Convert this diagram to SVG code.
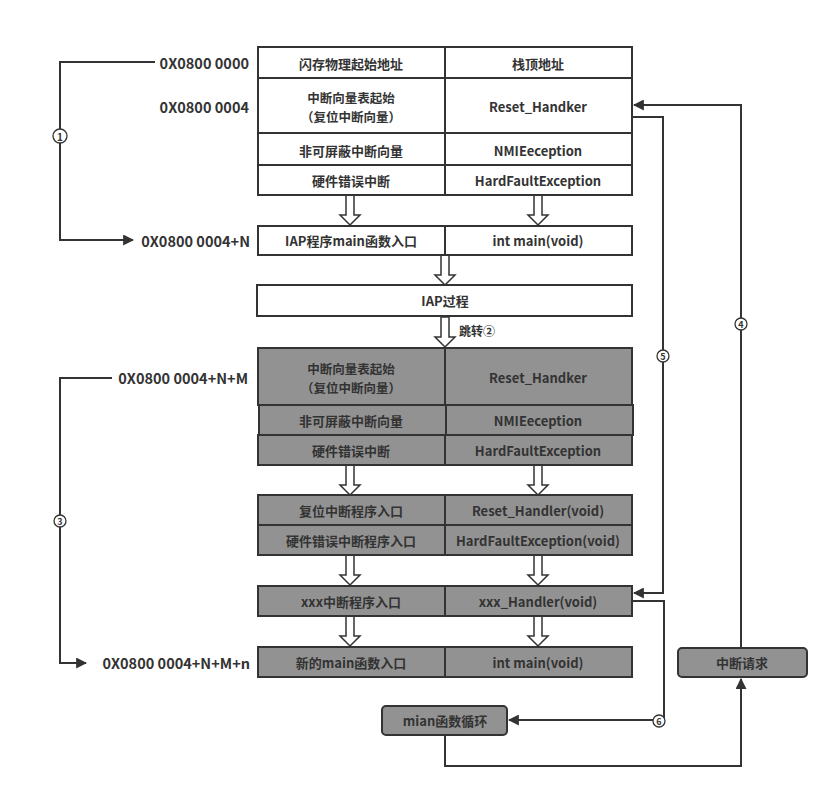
<svg xmlns="http://www.w3.org/2000/svg" width="836" height="797" viewBox="0 0 836 797">
<style>
text{font-family:"Noto Sans CJK SC","Liberation Sans",sans-serif;font-size:13px;font-weight:bold;fill:#333;text-anchor:middle;dominant-baseline:central}
.w{fill:#fff;stroke:#333;stroke-width:2}
.g{fill:#929292;stroke:#333;stroke-width:2}
.l{fill:none;stroke:#333;stroke-width:2}
.ha{fill:#fff;stroke:#333;stroke-width:1.5}
.lb{text-anchor:end;font-size:14.5px}
.s{font-size:12.5px}
</style>
<defs>
<marker id="ar" viewBox="0 0 10 10" refX="9" refY="5" markerWidth="11" markerHeight="11" markerUnits="userSpaceOnUse" orient="auto"><path d="M0,0L10,5L0,10z" fill="#333"/></marker>
<path id="h" d="M-4,0V20H-10L0,30L10,20H4V0Z"/>
</defs>
<g id="connectors">
<g class="ha">
<use href="#h" x="350" y="195"/><use href="#h" x="538" y="195"/>
<use href="#h" x="445" y="255"/><use href="#h" x="445" y="317"/>
<use href="#h" x="350" y="465"/><use href="#h" x="538" y="465"/>
<use href="#h" x="350" y="555"/><use href="#h" x="538" y="555"/>
<use href="#h" x="350" y="616"/><use href="#h" x="538" y="616"/>
</g>
<path class="l" d="M155,62H60V240H133" marker-end="url(#ar)"/>
<path class="l" d="M112,378H60V663H86" marker-end="url(#ar)"/>
<path class="l" d="M741,648V105H634" marker-end="url(#ar)"/>
<path class="l" d="M632,117H663V593H634" marker-end="url(#ar)"/>
<path class="l" d="M632,601H664V720H509" marker-end="url(#ar)"/>
<path class="l" d="M445,735V766H741V679" marker-end="url(#ar)"/>
<g>
<circle cx="60" cy="136" r="7" fill="#fff" stroke="#333" stroke-width="1.3"/><text x="60" y="136" style="font-size:10px">1</text>
<circle cx="60" cy="521" r="6" fill="#fff" stroke="#333" stroke-width="1.3"/><text x="60" y="521" style="font-size:9px">3</text>
<circle cx="741" cy="324" r="6" fill="#fff" stroke="#333" stroke-width="1.3"/><text x="741" y="324" style="font-size:9px">4</text>
<circle cx="663" cy="356" r="6" fill="#fff" stroke="#333" stroke-width="1.3"/><text x="663" y="356" style="font-size:9px">5</text>
<circle cx="659" cy="721" r="6" fill="#fff" stroke="#333" stroke-width="1.3"/><text x="659" y="721" style="font-size:9px">6</text>
</g>
</g>
<g id="top">
<rect class="w" x="258" y="47" width="374" height="148"/>
<path class="l" d="M445,47V195M258,78H632M258,133H632M258,165H632"/>
<text x="351" y="63">闪存物理起始地址</text><text x="538" y="63">栈顶地址</text>
<text class="s" x="351" y="97">中断向量表起始</text><text class="s" x="351" y="116">（复位中断向量）</text><text x="538" y="106">Reset_Handker</text>
<text x="351" y="150">非可屏蔽中断向量</text><text x="538" y="150">NMIEeception</text>
<text x="351" y="180">硬件错误中断</text><text x="538" y="180">HardFaultException</text>
</g>
<g id="iapmain"><rect class="w" x="258" y="226" width="374" height="29"/><path class="l" d="M445,226V255"/>
<text x="351" y="240">IAP程序main函数入口</text><text x="538" y="240">int main(void)</text></g>
<g id="iap"><rect class="w" x="257" y="285" width="375" height="31"/><text x="445" y="300">IAP过程</text></g>
<g id="app">
<rect class="g" x="258" y="348" width="374" height="57"/><path class="l" d="M445,348V405"/>
<text class="s" x="351" y="368">中断向量表起始</text><text class="s" x="351" y="387">（复位中断向量）</text><text x="538" y="377">Reset_Handker</text>
<rect class="g" x="259" y="405" width="374" height="30"/><path class="l" d="M446,405V435"/>
<text x="351" y="420">非可屏蔽中断向量</text><text x="538" y="420">NMIEeception</text>
<rect class="g" x="258" y="435" width="374" height="30"/><path class="l" d="M445,435V465"/>
<text x="351" y="450">硬件错误中断</text><text x="538" y="450">HardFaultException</text>
</g>
<g id="entries">
<rect class="g" x="258" y="495" width="374" height="60"/><path class="l" d="M445,495V555M258,525H632"/>
<text x="351" y="510">复位中断程序入口</text><text x="538" y="510">Reset_Handler(void)</text>
<text x="351" y="540">硬件错误中断程序入口</text><text x="538" y="540">HardFaultException(void)</text>
</g>
<g id="xxx"><rect class="g" x="258" y="586" width="374" height="30"/><path class="l" d="M445,586V616"/>
<text x="351" y="601">xxx中断程序入口</text><text x="538" y="601">xxx_Handler(void)</text></g>
<g id="newmain"><rect class="g" x="258" y="647" width="374" height="30"/><path class="l" d="M445,647V677"/>
<text x="351" y="662">新的main函数入口</text><text x="538" y="662">int main(void)</text></g>
<g id="irq"><rect class="g" x="678" y="648" width="129" height="29" rx="4"/><text x="742" y="662">中断请求</text></g>
<g id="loop"><rect class="g" x="382" y="706" width="125" height="29" rx="4"/><text x="445" y="720">mian函数循环</text></g>
<g id="labels">
<text class="lb" x="249" y="62">0X0800 0000</text>
<text class="lb" x="249" y="106">0X0800 0004</text>
<text class="lb" x="250" y="240">0X0800 0004+N</text>
<text class="lb" x="248" y="377">0X0800 0004+N+M</text>
<text class="lb" x="250" y="662">0X0800 0004+N+M+n</text>
<text x="477" y="330" style="font-size:12px">跳转②</text>
</g>
</svg>
